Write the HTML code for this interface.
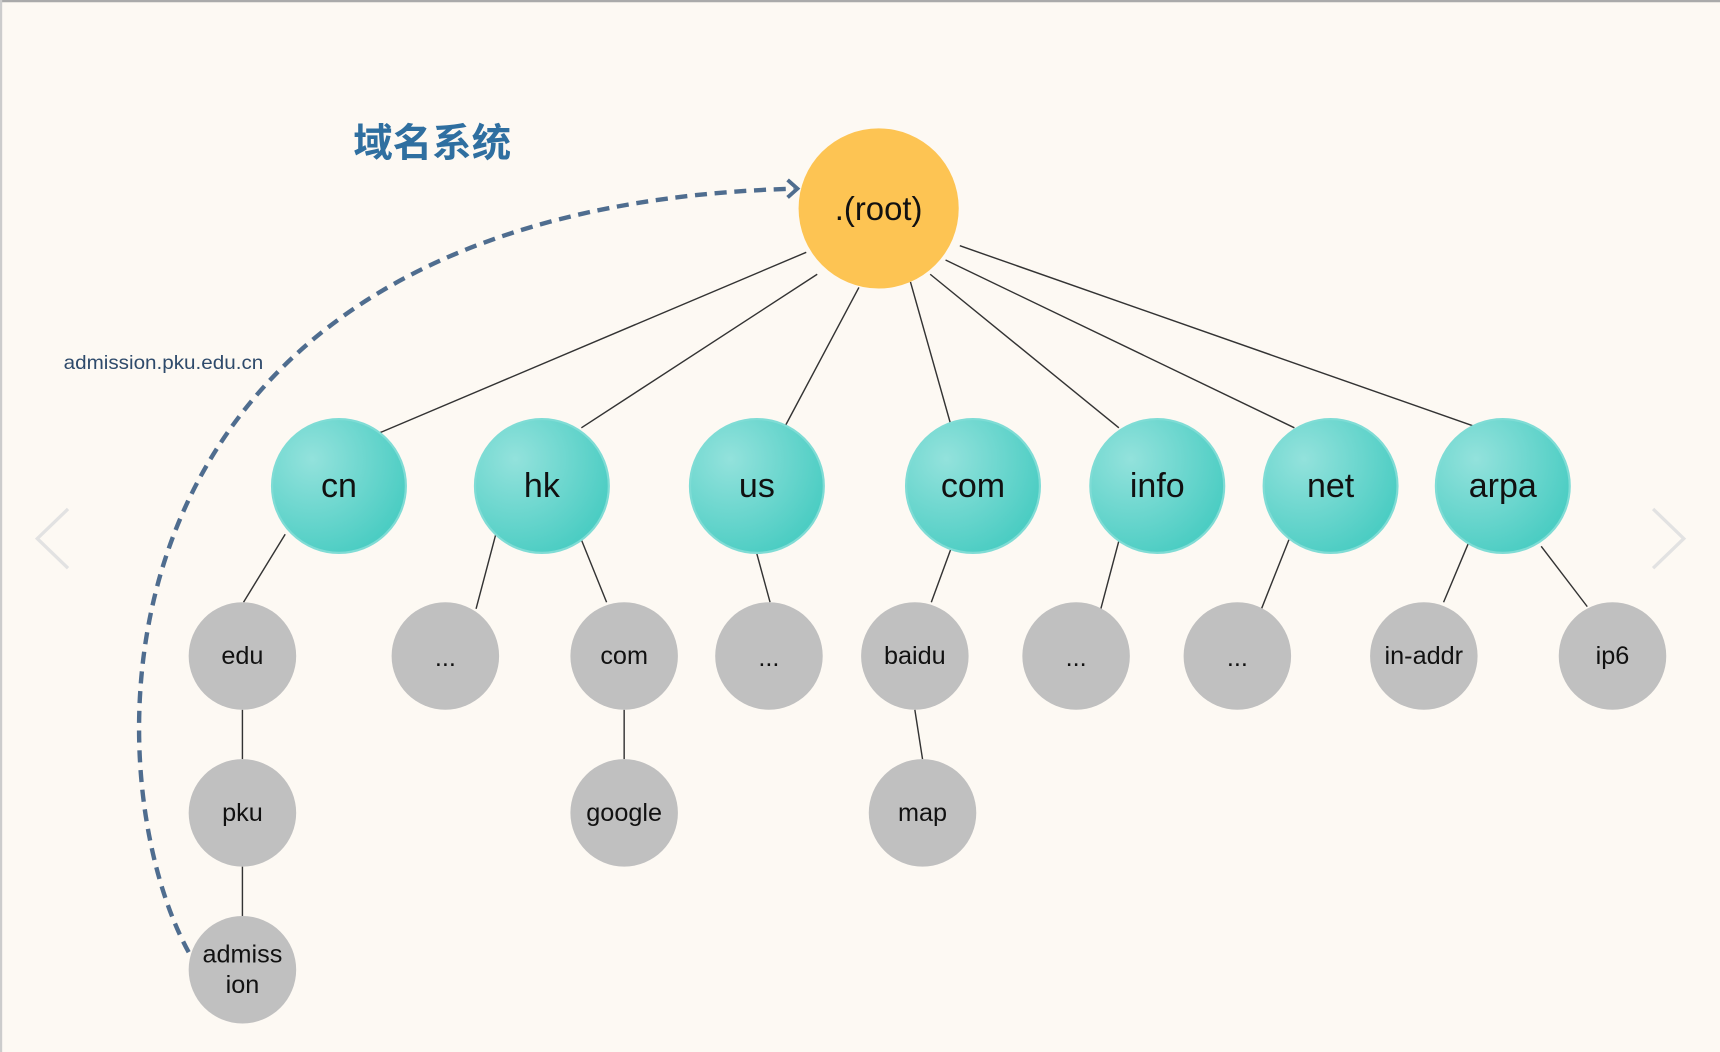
<!DOCTYPE html>
<html><head><meta charset="utf-8"><style>
html,body{margin:0;padding:0;background:#fdf9f3;}
svg{display:block}
text{font-family:"Liberation Sans","Noto Sans CJK SC",sans-serif;text-anchor:middle;dominant-baseline:central}
</style></head><body>
<svg width="1720" height="1052" viewBox="0 0 1568 959" preserveAspectRatio="none" xmlns="http://www.w3.org/2000/svg">
<defs>
<radialGradient id="tg" cx="0.3" cy="0.3" r="0.75">
<stop offset="0" stop-color="#93e2dc"/><stop offset="1" stop-color="#4ccdc3"/>
</radialGradient>
</defs>
<rect x="0" y="0" width="1568" height="959" fill="#fdf9f3"/>
<line x1="0" y1="1" x2="1568" y2="1" stroke="#aaa" stroke-width="2"/>
<line x1="1" y1="0" x2="1" y2="959" stroke="#ccc" stroke-width="2"/>
<text x="394" y="131" font-size="36" fill="#2f6fa0" font-weight="bold">域名系统</text>
<text x="149" y="331" font-size="18" fill="#2e4a6b" textLength="182" lengthAdjust="spacingAndGlyphs">admission.pku.edu.cn</text>
<g stroke="#333" stroke-width="1.3">
<line x1="735" y1="230" x2="345" y2="395"/>
<line x1="745" y1="250" x2="530" y2="390"/>
<line x1="783" y1="262" x2="716" y2="388"/>
<line x1="830" y1="257" x2="867" y2="388"/>
<line x1="848" y1="250" x2="1020" y2="390"/>
<line x1="862" y1="237" x2="1180" y2="390"/>
<line x1="875" y1="224" x2="1348" y2="390"/>
<line x1="260" y1="487" x2="222" y2="549"/>
<line x1="452" y1="487" x2="434" y2="555"/>
<line x1="530" y1="492" x2="553" y2="549"/>
<line x1="690" y1="505" x2="702" y2="549"/>
<line x1="867" y1="500" x2="849" y2="549"/>
<line x1="1020" y1="493" x2="1003" y2="557"/>
<line x1="1175" y1="492" x2="1150" y2="555"/>
<line x1="1340" y1="492" x2="1316" y2="549"/>
<line x1="1405" y1="498" x2="1447" y2="553"/>
<line x1="221" y1="647" x2="221" y2="692"/>
<line x1="569" y1="647" x2="569" y2="692"/>
<line x1="834" y1="647" x2="841" y2="692"/>
<line x1="221" y1="790" x2="221" y2="835"/>
</g>
<path d="M172,868 C80,700 70,190 724,172" fill="none" stroke="#4f6d8f" stroke-width="4" stroke-dasharray="11 7"/>
<path d="M718,164 L727,172 L718,180" fill="none" stroke="#4f6d8f" stroke-width="3.5"/>
<circle cx="801" cy="190" r="73" fill="#fdc453"/>
<text x="801" y="190" font-size="30" fill="#111">.(root)</text>
<g stroke="#7fdcd5" stroke-width="2" fill="url(#tg)">
<circle cx="309" cy="443" r="61"/><circle cx="494" cy="443" r="61"/><circle cx="690" cy="443" r="61"/>
<circle cx="887" cy="443" r="61"/><circle cx="1055" cy="443" r="61"/><circle cx="1213" cy="443" r="61"/><circle cx="1370" cy="443" r="61"/>
</g>
<g font-size="31" fill="#111">
<text x="309" y="443">cn</text><text x="494" y="443">hk</text><text x="690" y="443">us</text>
<text x="887" y="443">com</text><text x="1055" y="443">info</text><text x="1213" y="443">net</text><text x="1370" y="443">arpa</text>
</g>
<g fill="#c0c0c0">
<circle cx="221" cy="598" r="49"/><circle cx="406" cy="598" r="49"/><circle cx="569" cy="598" r="49"/>
<circle cx="701" cy="598" r="49"/><circle cx="834" cy="598" r="49"/><circle cx="981" cy="598" r="49"/>
<circle cx="1128" cy="598" r="49"/><circle cx="1298" cy="598" r="49"/><circle cx="1470" cy="598" r="49"/>
<circle cx="221" cy="741" r="49"/><circle cx="569" cy="741" r="49"/><circle cx="841" cy="741" r="49"/>
<circle cx="221" cy="884" r="49"/>
</g>
<g font-size="23" fill="#111">
<text x="221" y="598">edu</text><text x="406" y="600">...</text><text x="569" y="598">com</text>
<text x="701" y="600">...</text><text x="834" y="598">baidu</text><text x="981" y="600">...</text>
<text x="1128" y="600">...</text><text x="1298" y="598">in-addr</text><text x="1470" y="598">ip6</text>
<text x="221" y="741">pku</text><text x="569" y="741">google</text><text x="841" y="741">map</text>
<text x="221" y="870">admiss</text><text x="221" y="898">ion</text>
</g>
<path d="M62,464 L34,491 L62,518" fill="none" stroke="#e2e2e2" stroke-width="3"/>
<path d="M1507,464 L1535,491 L1507,518" fill="none" stroke="#e2e2e2" stroke-width="3"/>
</svg>
</body></html>
